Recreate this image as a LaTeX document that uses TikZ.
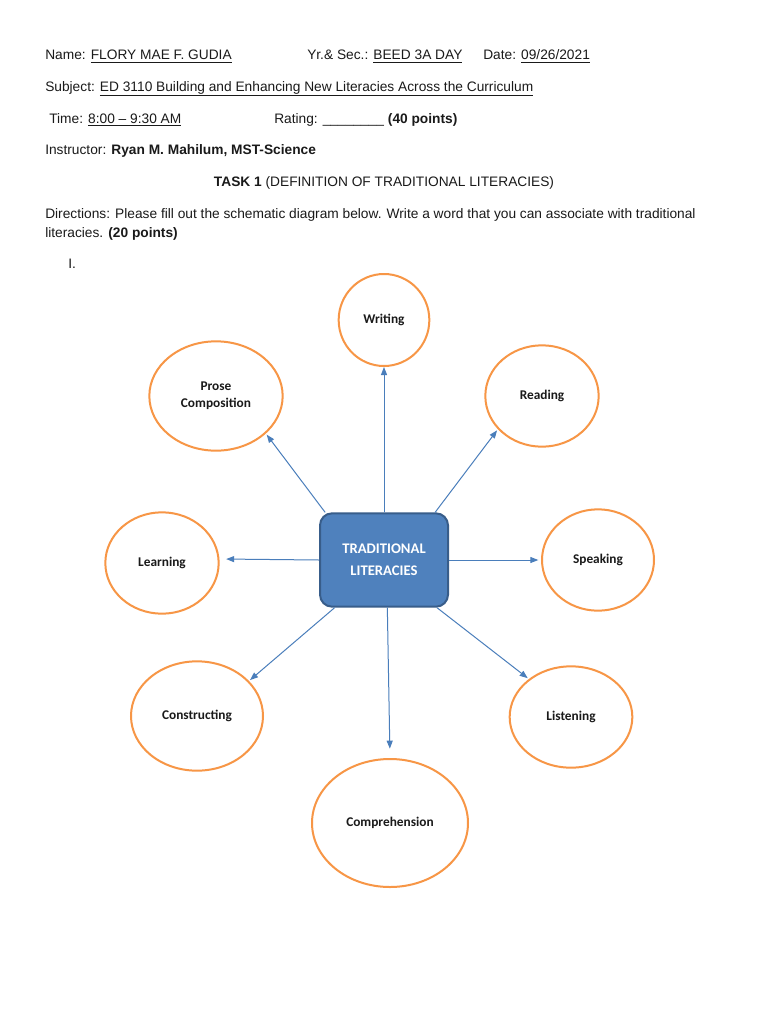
\documentclass[tikz,border=0pt]{standalone}
\usepackage{fontspec}
\setmainfont{Liberation Sans}
\newfontfamily\calibri{Carlito}
\usetikzlibrary{shapes.geometric, arrows.meta}
\definecolor{ovalorange}{HTML}{F79646}
\definecolor{boxblue}{HTML}{4F81BD}
\definecolor{boxborder}{HTML}{385D8A}
\definecolor{arrowblue}{HTML}{4A7EBB}
\definecolor{textdark}{HTML}{1A1A1A}
\tikzset{
  oval/.style={ellipse, draw=ovalorange, fill=white, line width=1.5pt,
              inner sep=0pt, align=center, text=textdark,
              font=\calibri\bfseries\fontsize{10}{13}\selectfont},
  centerbox/.style={draw=boxborder, fill=boxblue, rounded corners=9pt,
              line width=1.5pt, minimum width=96pt, minimum height=70pt,
              align=center, text=white,
              font=\calibri\bfseries\fontsize{11}{16.5}\selectfont},
  linkarr/.style={-{Triangle[length=6pt,width=4.5pt]}, draw=arrowblue,
              line width=0.75pt},
  header/.style={anchor=base west, inner sep=0pt, text=textdark,
              font=\fontsize{10.3}{12}\selectfont},
}

\begin{document}
\begin{tikzpicture}[x=0.75pt, y=-0.75pt]
  \useasboundingbox[fill=white] (0,0) rectangle (768,1024);

  % Header
  \node[header] (name) at (45,60) {Name: \underline{FLORY MAE F. GUDIA}};
  \node[header] (sec) at (307,60) {Yr.\& Sec.: \underline{BEED 3A DAY}};
  \node[header] (date) at (483,60) {Date: \underline{09/26/2021}};
  \node[header] (subj) at (45,91) {Subject: \underline{ED 3110 Building and Enhancing New Literacies Across the Curriculum}};
  \node[header] (time) at (49,123) {Time: \underline{8:00 -- 9:30 AM}};
  \node[header] (rate) at (274,123) {Rating: \_\_\_\_\_\_\_\_ \textbf{(40 points)}};
  \node[header] (instr) at (45,154) {Instructor: \textbf{Ryan M. Mahilum, MST-Science}};
  \node[header, anchor=base] (task) at (384,186) {\textbf{TASK 1} (DEFINITION OF TRADITIONAL LITERACIES)};
  \node[header] (dir1) at (45,218) {Directions: Please fill out the schematic diagram below. Write a word that you can associate with traditional};
  \node[header] (dir2) at (45,237) {literacies. \textbf{(20 points)}};
  \node[header] (item) at (68,268) {I.};

  % Center
  \node[centerbox] (trad) at (384,560) {TRADITIONAL\\LITERACIES};

  % Ovals
  \node[oval, minimum width=68pt, minimum height=69pt] (writing) at (384,320) {Writing};
  \node[oval, minimum width=100pt, minimum height=82pt] (prose) at (216,396) {Prose\\Composition};
  \node[oval, minimum width=85pt, minimum height=76pt] (reading) at (542,396) {Reading};
  \node[oval, minimum width=85pt, minimum height=76pt] (learning) at (162,563) {Learning};
  \node[oval, minimum width=84pt, minimum height=76pt] (speaking) at (598,560) {Speaking};
  \node[oval, minimum width=99pt, minimum height=82pt] (constr) at (197,716) {Constructing};
  \node[oval, minimum width=92pt, minimum height=76pt] (listening) at (571,717) {Listening};
  \node[oval, minimum width=117pt, minimum height=96pt] (compr) at (390,823) {Comprehension};

  % Arrows
  \draw[linkarr] (trad.north) -- (writing.south);
  \draw[linkarr, shorten >=1pt] (trad.141) -- (prose.-37);
  \draw[linkarr, shorten >=1pt] (trad.43) -- (reading.217);
  \draw[linkarr, shorten >=5pt] (trad.west) -- (learning.4);
  \draw[linkarr, shorten >=2pt] (trad.east) -- (speaking.west);
  \draw[linkarr, shorten >=1pt] (trad.224) -- (constr.34);
  \draw[linkarr, shorten >=1pt] (trad.-42) -- (listening.138);
  \draw[linkarr, shorten >=7pt] (trad.-86) -- (compr.north);
\end{tikzpicture}
\end{document}
